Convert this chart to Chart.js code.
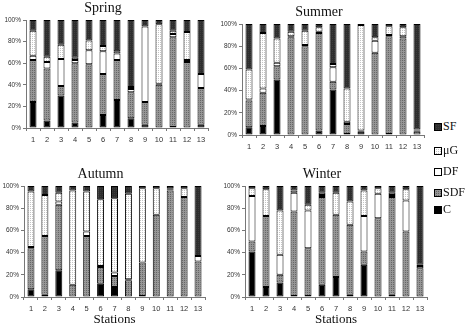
<!DOCTYPE html>
<html>
<head>
<meta charset="utf-8">
<script src="https://cdn.jsdelivr.net/npm/chart.js@4"></script>
<style>
  body { margin: 0; background: #fff; }
  #wrap { position: relative; width: 474px; height: 326px; overflow: hidden; background: #fff; }
  #wrap canvas { position: absolute; }
  .leg { position: absolute; left: 434px; font: 12px "Liberation Serif", serif; color: #111; line-height: 12px; }
  .leg canvas { position: static !important; vertical-align: -1px; margin-right: 1px; }
</style>
</head>
<body>
<div id="wrap"></div>
<script>
// stations on the x axis
const stations = ['1', '2', '3', '4', '5', '6', '7', '8', '9', '10', '11', '12', '13'];
const yTicks = [0, 20, 40, 60, 80, 100];

// Spring (% of total, bottom to top: C, SDF, DF, uG, SF)
const springC   = [24, 7, 30, 5, 0, 12, 26, 9, 3, 0, 1, 0, 3];
const springSDF = [39, 48, 9, 55, 59, 38, 37, 24, 21, 40, 83, 61, 34];
const springDF  = [4, 6, 25, 3, 13, 21, 6, 3, 70, 1, 3, 2, 13];
const springUG  = [23, 5, 13, 2, 9, 5, 2, 2, 0, 55, 3, 26, 0];
const springSF  = [10, 34, 23, 35, 19, 24, 29, 62, 6, 4, 10, 11, 50];

// Summer
const summerC   = [7, 8, 50, 0, 0, 4, 41, 1, 3, 0, 1, 0, 0];
const summerSDF = [24, 30, 12, 88, 80, 88, 7, 9, 1, 74, 88, 87, 3];
const summerDF  = [1, 4, 3, 1, 1, 1, 13, 2, 0, 11, 1, 2, 1];
const summerUG  = [27, 50, 22, 4, 13, 4, 3, 30, 95, 3, 8, 8, 1];
const summerSF  = [41, 8, 13, 7, 6, 3, 36, 58, 1, 12, 2, 3, 95];

// Autumn
const autumnC   = [7, 2, 24, 0, 0, 12, 9, 0, 1, 0, 0, 0, 0];
const autumnSDF = [37, 53, 59, 11, 55, 15, 10, 15, 30, 74, 96, 90, 32];
const autumnDF  = [1, 0, 3, 0, 4, 1, 3, 1, 0, 0, 1, 0, 5];
const autumnUG  = [50, 37, 8, 85, 36, 60, 67, 77, 67, 24, 1, 8, 0];
const autumnSF  = [5, 8, 6, 4, 5, 12, 11, 7, 2, 2, 2, 2, 63];

// Winter
const winterC   = [41, 9, 13, 1, 1, 11, 18, 2, 29, 0, 2, 0, 0];
const winterSDF = [9, 64, 7, 76, 43, 79, 56, 63, 12, 71, 88, 59, 26];
const winterDF  = [41, 0, 18, 17, 34, 2, 0, 0, 32, 22, 2, 28, 2];
const winterUG  = [7, 24, 40, 2, 5, 2, 20, 21, 23, 5, 2, 10, 1];
const winterSF  = [2, 3, 22, 4, 17, 6, 6, 14, 4, 2, 6, 3, 71];

// fills
function dotPattern(bg, dot) {
    const c = document.createElement('canvas');
    c.width = 4; c.height = 4;
    const ctx = c.getContext('2d');
    ctx.fillStyle = bg;
    ctx.fillRect(0, 0, 4, 4);
    ctx.fillStyle = dot;
    ctx.fillRect(0, 0, 1, 1);
    ctx.fillRect(2, 2, 1, 1);
    ctx.fillRect(2, 0, 1, 1);
    ctx.fillRect(0, 2, 1, 1);
    return ctx.createPattern(c, 'repeat');
}
const fillC = '#000000';
const fillSDF = dotPattern('#969696', '#666666');
const fillDF = '#ffffff';
const fillUG = dotPattern('#ffffff', '#c4c4c4');
const fillSF = dotPattern('#2e2e2e', '#3c3c3c');

const wrap = document.getElementById('wrap');
const TITLE_H = 22;
const AXIS_W = 28;

function makePanel(title, c, sdf, df, ug, sf, box) {
    const w = AXIS_W + (box.R - box.L) + 6;
    const h = TITLE_H + (box.B - box.T) + box.xH;
    const cv = document.createElement('canvas');
    cv.width = w; cv.height = h;
    cv.style.left = (box.L - AXIS_W) + 'px';
    cv.style.top = (box.T - TITLE_H) + 'px';
    wrap.appendChild(cv);

    const ds = (label, data, fill) => ({
        label: label, data: data, backgroundColor: fill,
        borderColor: '#000', borderWidth: 1, borderSkipped: false,
        barPercentage: 0.5, categoryPercentage: 1
    });

    return new Chart(cv, {
        type: 'bar',
        data: {
            labels: stations,
            datasets: [
                ds('C', c, fillC),
                ds('SDF', sdf, fillSDF),
                ds('DF', df, fillDF),
                ds('\u03bcG', ug, fillUG),
                ds('SF', sf, fillSF)
            ]
        },
        options: {
            responsive: false,
            animation: false,
            devicePixelRatio: 1,
            layout: { padding: { left: 0, top: 0, right: 6, bottom: 0 } },
            plugins: {
                legend: { display: false },
                tooltip: { enabled: false },
                title: {
                    display: true, text: title, color: '#111',
                    font: { family: '"Liberation Serif", serif', size: 14, weight: 'normal', lineHeight: 1.2 },
                    padding: { top: 2, bottom: 3.2 }
                }
            },
            scales: {
                x: {
                    stacked: true,
                    grid: { display: true, drawOnChartArea: false, drawTicks: true, tickLength: 3, color: '#777', offset: true },
                    border: { display: true, color: '#777' },
                    ticks: { color: '#333', padding: 4, maxRotation: 0, autoSkip: false,
                             font: { family: '"Liberation Sans", sans-serif', size: 7.5 } },
                    title: {
                        display: box.stations, text: 'Stations', color: '#111',
                        font: { family: '"Liberation Serif", serif', size: 13, lineHeight: 1 },
                        padding: { top: 0, bottom: 0 }
                    },
                    afterFit: (s) => { s.height = box.xH; }
                },
                y: {
                    stacked: true, min: 0, max: 100,
                    afterBuildTicks: (s) => { s.ticks = yTicks.map(v => ({ value: v })); },
                    grid: { display: true, drawOnChartArea: false, drawTicks: true, tickLength: 3, color: '#777' },
                    border: { display: true, color: '#777' },
                    ticks: { color: '#333', padding: 2,
                             font: { family: '"Liberation Sans", sans-serif', size: 6.5 },
                             callback: (v) => v + '%' },
                    afterFit: (s) => { s.width = AXIS_W; }
                }
            }
        }
    });
}

makePanel('Spring', springC, springSDF, springDF, springUG, springSF,
    { L: 26, R: 208, T: 20, B: 128, xH: 20, stations: false });
makePanel('Summer', summerC, summerSDF, summerDF, summerUG, summerSF,
    { L: 242, R: 424, T: 24, B: 135, xH: 18, stations: false });
makePanel('Autumn', autumnC, autumnSDF, autumnDF, autumnUG, autumnSF,
    { L: 24, R: 205, T: 186, B: 297, xH: 29, stations: true });
makePanel('Winter', winterC, winterSDF, winterDF, winterUG, winterSF,
    { L: 245, R: 427, T: 186, B: 297, xH: 29, stations: true });

// legend, top entry first
const legendItems = [
    ['SF', fillSF, 122], ['\u03bcG', fillUG, 146], ['DF', fillDF, 167],
    ['SDF', fillSDF, 188], ['C', fillC, 205]
];
legendItems.forEach(([name, fill, y]) => {
    const d = document.createElement('div');
    d.className = 'leg';
    d.style.top = (y - 2) + 'px';
    const sw = document.createElement('canvas');
    sw.width = 8; sw.height = 8;
    const g = sw.getContext('2d');
    g.fillStyle = fill; g.fillRect(0, 0, 8, 8);
    g.strokeStyle = '#000'; g.lineWidth = 1; g.strokeRect(0.5, 0.5, 7, 7);
    d.appendChild(sw);
    d.appendChild(document.createTextNode(name));
    wrap.appendChild(d);
});
</script>
</body>
</html>
